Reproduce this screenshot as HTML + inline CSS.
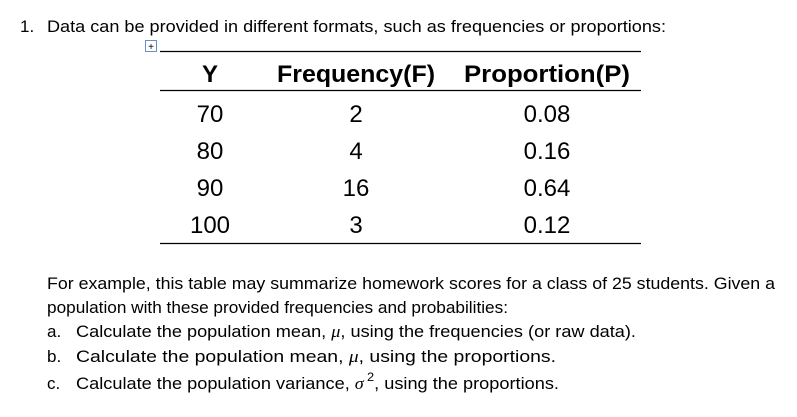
<!DOCTYPE html>
<html><head><meta charset="utf-8"><style>
html,body{margin:0;padding:0;background:#fff;}
svg{display:block;}
text{font-family:"Liberation Sans",sans-serif;fill:#000;}
</style></head><body>
<svg width="797" height="417" xmlns="http://www.w3.org/2000/svg">
<text x="20" y="32" font-size="17">1.</text>
<text x="47" y="32" font-size="17" textLength="619" lengthAdjust="spacingAndGlyphs">Data can be provided in different formats, such as frequencies or proportions:</text>
<rect x="145.5" y="40.5" width="11" height="11" fill="none" stroke="#6a8fd0"/>
<text x="151" y="50" font-size="10" text-anchor="middle" fill="#335">+</text>
<line x1="160" y1="51.5" x2="641" y2="51.5" stroke="#000" stroke-width="1.2"/>
<line x1="160" y1="90.5" x2="641" y2="90.5" stroke="#000" stroke-width="1.2"/>
<line x1="160" y1="243.5" x2="641" y2="243.5" stroke="#000" stroke-width="1.2"/>
<g font-size="24" font-weight="bold" text-anchor="middle">
<text x="210" y="82">Y</text>
<text x="356" y="82" textLength="158" lengthAdjust="spacingAndGlyphs">Frequency(F)</text>
<text x="547" y="82" textLength="166" lengthAdjust="spacingAndGlyphs">Proportion(P)</text>
</g>
<g font-size="24" text-anchor="middle">
<text x="210" y="122">70</text><text x="356" y="122">2</text><text x="547" y="122">0.08</text>
<text x="210" y="159">80</text><text x="356" y="159">4</text><text x="547" y="159">0.16</text>
<text x="210" y="196">90</text><text x="356" y="196">16</text><text x="547" y="196">0.64</text>
<text x="210" y="233">100</text><text x="356" y="233">3</text><text x="547" y="233">0.12</text>
</g>
<g font-size="17">
<text x="47" y="289" textLength="728" lengthAdjust="spacingAndGlyphs">For example, this table may summarize homework scores for a class of 25 students. Given a</text>
<text x="47" y="313" textLength="461" lengthAdjust="spacingAndGlyphs">population with these provided frequencies and probabilities:</text>
<text x="47" y="337">a.</text>
<text x="76" y="337" textLength="560" lengthAdjust="spacingAndGlyphs">Calculate the population mean, <tspan font-family="Liberation Serif" font-style="italic">μ</tspan>, using the frequencies (or raw data).</text>
<text x="47" y="362">b.</text>
<text x="76" y="362" textLength="480" lengthAdjust="spacingAndGlyphs">Calculate the population mean, <tspan font-family="Liberation Serif" font-style="italic">μ</tspan>, using the proportions.</text>
<text x="47" y="389">c.</text>
<text x="76" y="389" textLength="483" lengthAdjust="spacingAndGlyphs">Calculate the population variance, <tspan font-family="Liberation Serif" font-style="italic">σ</tspan><tspan font-size="12" dx="3" dy="-8">2</tspan><tspan dy="8">, using the proportions.</tspan></text>
</g>
</svg>
</body></html>
